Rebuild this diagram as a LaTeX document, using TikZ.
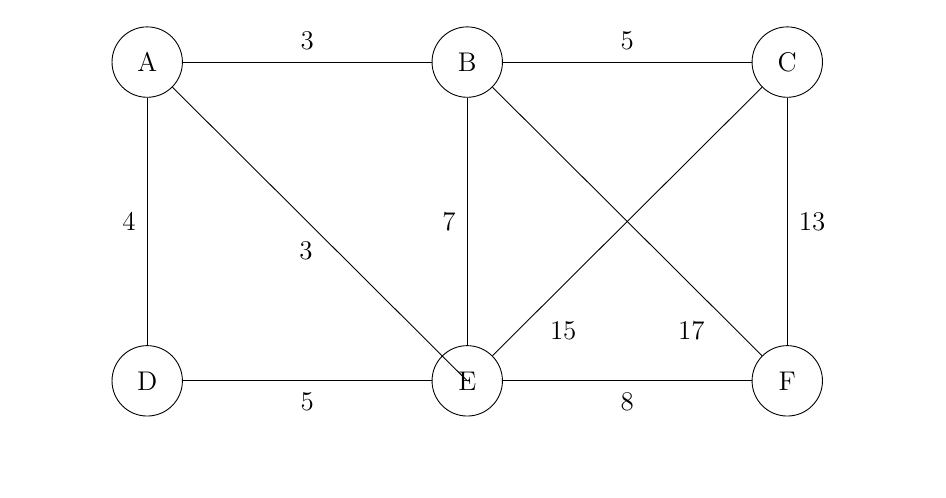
\documentclass[tikz,border=0pt]{standalone}
\begin{document}
\begin{tikzpicture}[font=\large]
\tikzset{vert/.style={draw,circle,minimum size=1.1cm,inner sep=0pt},
lbl/.style={inner sep=5pt}}
\useasboundingbox (0,0) rectangle (14.78,7.78);
\node[vert] (A) at (2.3,6.81) {A};
\node[vert] (B) at (7.3,6.81) {B};
\node[vert] (C) at (12.3,6.81) {C};
\node[vert] (D) at (2.3,1.83) {D};
\node[vert] (E) at (7.3,1.83) {E};
\node[vert] (F) at (12.3,1.83) {F};
\draw (A) -- node[lbl,below left,pos=0.5,inner sep=3pt] {3} (B |- E) ++(0,0);
\draw (A) -- node[lbl,above] {3} (B);
\draw (B) -- node[lbl,above] {5} (C);
\draw (A) -- node[lbl,left] {4} (D);
\draw (B) -- node[lbl,left] {7} (E);
\draw (C) -- node[lbl,right] {13} (F);
\draw (E) -- node[lbl,below right,pos=0.17] {15} (C);
\draw (B) -- node[lbl,below left,pos=0.83] {17} (F);
\draw (D) -- node[lbl,below] {5} (E);
\draw (E) -- node[lbl,below] {8} (F);
\end{tikzpicture}
\end{document}
